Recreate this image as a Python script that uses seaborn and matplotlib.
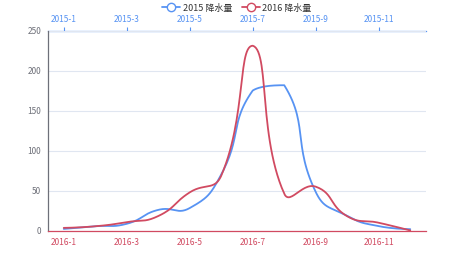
import numpy as np
import pandas as pd
import matplotlib
matplotlib.use("Agg")
import matplotlib.pyplot as plt
import seaborn as sns
from matplotlib.lines import Line2D

months_2015 = ["2015-%d" % m for m in range(1, 13)]
months_2016 = ["2016-%d" % m for m in range(1, 13)]
rain_2015 = [2.6, 5.9, 9.0, 26.4, 28.7, 70.7, 175.6, 182.2, 48.7, 18.8, 6.0, 2.3]
rain_2016 = [3.9, 5.9, 11.1, 18.7, 48.3, 69.2, 231.6, 46.6, 55.4, 18.4, 10.3, 0.7]
series_names = ["2015 降水量", "2016 降水量"]
colors = ["#5793f3", "#d14a61"]

sns.set_theme(style="white")
plt.rcParams['font.family'] = ['Noto Sans CJK SC', 'DejaVu Sans']


def smooth_curve(xs, ys, smooth=0.5, xs_scale=31.5, ys_scale=0.8, n=30):
    # ECharts-4-style bezier smoothing with bounding-box constraint
    P = np.column_stack([np.asarray(xs, float) * xs_scale, np.asarray(ys, float) * ys_scale])
    m = len(P)
    pmin = P.min(axis=0); pmax = P.max(axis=0)
    out = [P[0:1]]
    cp0 = P[0].copy()
    t = np.linspace(0, 1, n)[1:, None]
    for idx in range(1, m):
        cur = P[idx]
        prev = P[idx - 1]
        if idx == m - 1:
            ncp0 = cur.copy()
            v = np.zeros(2); rn = 0.5
        else:
            nxt = P[idx + 1]
            v = nxt - prev
            lp = np.linalg.norm(cur - prev)
            ln = np.linalg.norm(nxt - cur)
            rn = ln / (ln + lp)
            ncp0 = cur - v * smooth * (1 - rn)
        cp0 = np.clip(cp0, pmin, pmax)
        ncp0 = np.clip(ncp0, pmin, pmax)
        seg = (1 - t) ** 3 * prev + 3 * (1 - t) ** 2 * t * cp0 + 3 * (1 - t) * t ** 2 * ncp0 + t ** 3 * cur
        out.append(seg)
        cp0 = cur + v * smooth * rn
    out = np.vstack(out)
    return out[:, 0] / xs_scale, out[:, 1] / ys_scale


fig = plt.figure(figsize=(4.74, 2.63), dpi=100)
ax = fig.add_axes([48 / 474, 1 - 231 / 263, (426 - 48) / 474, 200 / 263])

pos = np.arange(12)
frames = []
for name, vals in zip(series_names, [rain_2015, rain_2016]):
    sx, sy = smooth_curve(pos, vals)
    frames.append(pd.DataFrame({"x": sx, "y": sy, "series": name}))
df = pd.concat(frames, ignore_index=True)
sns.lineplot(data=df, x="x", y="y", hue="series", palette=colors, sort=False,
             estimator=None, linewidth=1.3, ax=ax, legend=False)

ax.set_xlim(-0.5, 11.5)
ax.set_ylim(0, 250)
ax.set_yticks([0, 50, 100, 150, 200, 250])
ax.yaxis.grid(True, color="#e0e6f1", linewidth=0.8)
ax.set_axisbelow(True)
ax.set_xlabel(""); ax.set_ylabel("")

ax.set_xticks(pos[::2])
ax.set_xticklabels(months_2016[::2])
ax.tick_params(axis="x", colors=colors[1], labelsize=6, length=3, width=0.8, pad=2)
ax.tick_params(axis="y", colors="#6e7079", labelsize=6, length=3, width=0.8, pad=2)

for side in ["top", "right"]:
    ax.spines[side].set_visible(False)
ax.spines["bottom"].set_color(colors[1])
ax.spines["bottom"].set_linewidth(0.9)
ax.spines["left"].set_color("#6e7079")
ax.spines["left"].set_linewidth(0.9)

sec = ax.secondary_xaxis("top")
sec.set_xticks(pos[::2])
sec.set_xticklabels(months_2015[::2])
sec.tick_params(axis="x", colors=colors[0], labelsize=6, length=3, width=0.8, pad=2)
for side in ["left", "right", "bottom"]:
    sec.spines[side].set_visible(False)
sec.spines["top"].set_color(colors[0])
sec.spines["top"].set_linewidth(0.9)

handles = [Line2D([0], [0], color=c, linewidth=1.3, marker="o", markersize=6,
                  markerfacecolor="white", markeredgecolor=c) for c in colors]
fig.legend(handles, series_names, loc="center", bbox_to_anchor=(0.5, 1 - 8 / 263),
           ncol=2, frameon=False, fontsize=6.5, handlelength=2, handletextpad=0.3,
           columnspacing=1.0, labelcolor="#333333")

fig.savefig("out.png", dpi=100)
